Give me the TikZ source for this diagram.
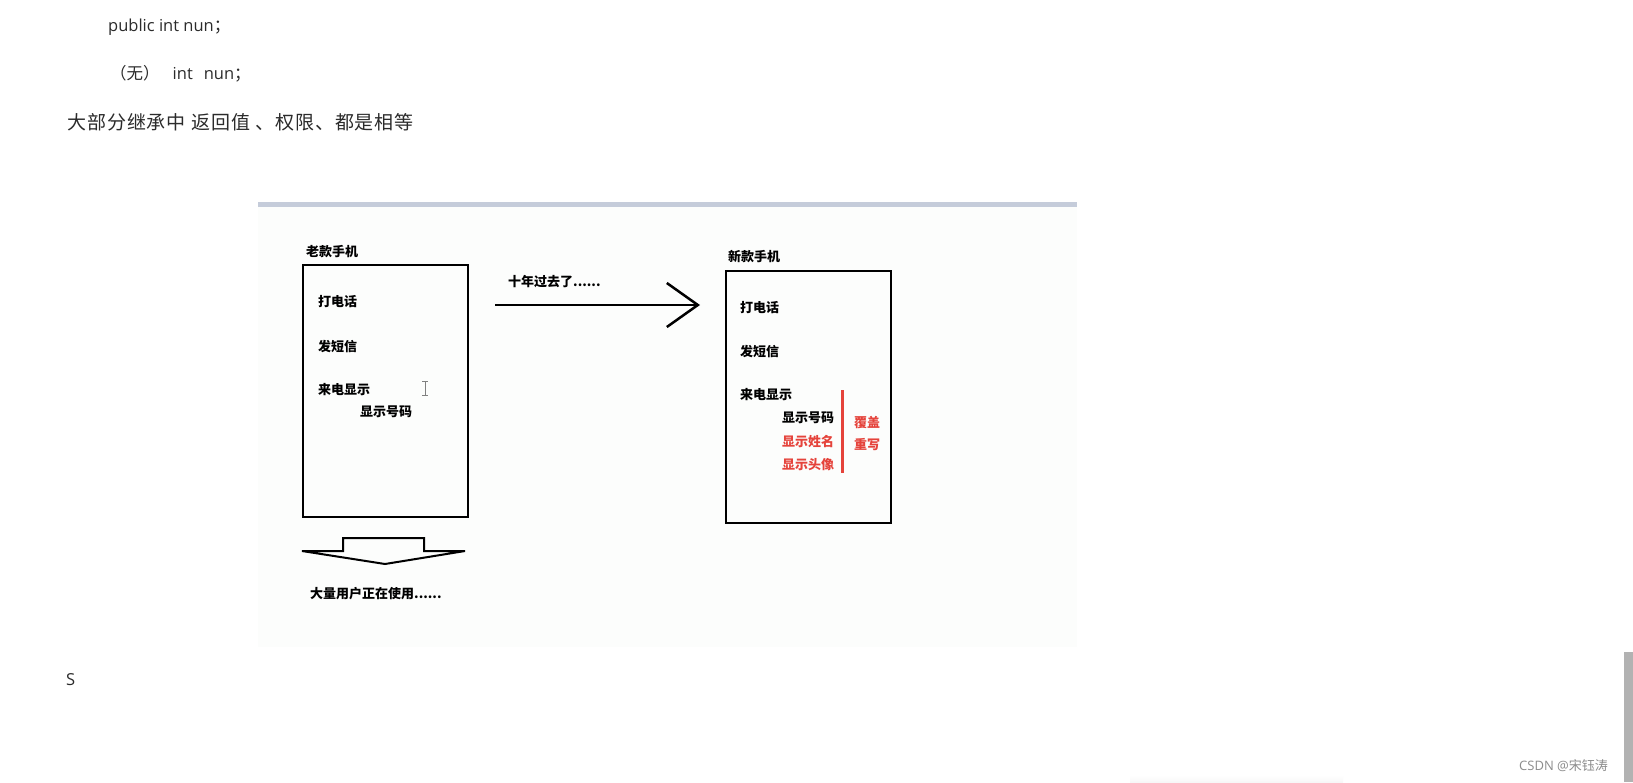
\documentclass[tikz,border=0pt]{standalone}
\usepackage{fontspec}
\setmainfont{Open Sans}
\newfontfamily\cjk{Noto Sans CJK SC}
\usetikzlibrary{arrows.meta,positioning}

\definecolor{bodytext}{HTML}{2B2B2B}
\definecolor{bandblue}{HTML}{C5CCDA}
\definecolor{paper}{HTML}{FCFDFC}
\definecolor{markred}{HTML}{E5433B}
\definecolor{scrollgray}{HTML}{B2B2B2}

\tikzset{
  bodyline/.style={anchor=west, inner sep=0pt, text=bodytext,
    font=\fontsize{16.5}{20}\selectfont},
  phonetext/.style={anchor=west, inner sep=0pt,
    font=\cjk\bfseries\fontsize{13}{15}\selectfont},
  redtext/.style={phonetext, text=markred},
  phonebox/.style={draw, line width=2.7pt, minimum width=165, minimum height=252, inner sep=0pt}
}

\begin{document}
\begin{tikzpicture}[x=1pt,y=-1pt]

\useasboundingbox [fill=white] (0,0) rectangle (1633,782);

% text above the picture
\node [bodyline] (declpublic) at (108,27) {public int nun{\cjk ；}};
\node [bodyline] (declnone) at (110,74) {{\cjk （无）}\hspace{13pt}int\hspace{11pt}nun{\cjk ；}};
\node [bodyline, font=\cjk\fontsize{19}{22}\addfontfeature{LetterSpace=5}\selectfont] (inherit) at (67,122)
  {大部分继承中 返回值 、权限、都是相等};

% the screenshot
\fill [paper] (258,207) rectangle (1077,647);
\fill [bandblue] (258,202) rectangle (1077,207);

% old phone
\node [phonetext] (oldtitle) at (306,252) {老款手机};
\node [phonebox] (oldbox) at (385.5,391) {};
\node [phonetext] (oldcall) at (318,302) {打电话};
\node [phonetext] (oldsms) at (318,347) {发短信};
\node [phonetext] (oldshow) at (318,390) {来电显示};
\node [phonetext] (oldnumber) at (360,412) {显示号码};

\draw [gray, line width=0.8pt] (422,381) -- (428,381) (425,381) -- (425,395) (422,395) -- (428,395);

% ten years later
\node [phonetext] (decade) at (508,282) {十年过去了......};
\coordinate (arrowstart) at (495,305);
\coordinate (arrowend) at (700,305);
\draw [line width=2.5pt, -{Straight Barb[length=31pt,width=44pt,line width=2.5pt]}] (arrowstart) -- (arrowend);

% new phone
\node [phonetext] (newtitle) at (728,257) {新款手机};
\node [phonebox] (newbox) at (808.5,397) {};
\node [phonetext] (newcall) at (740,308) {打电话};
\node [phonetext] (newsms) at (740,352) {发短信};
\node [phonetext] (newshow) at (740,395) {来电显示};
\node [phonetext] (newnumber) at (782,418) {显示号码};
\node [redtext] (newname) at (782,442) {显示姓名};
\node [redtext] (newavatar) at (782,465) {显示头像};
\coordinate (bartop) at (842,390);
\coordinate (barbottom) at (842,473);
\draw [markred, line width=3pt] (bartop) -- (barbottom);
\node [redtext] (cover) at (854,423) {覆盖};
\node [redtext] (rewrite) at (854,445) {重写};

% many users
\draw [line width=2pt, line join=miter] (302,551) -- (343,551) -- (343,538) -- (424,538) -- (424,551)
  -- (465,551) -- (385,564) -- cycle;
\node [phonetext] (users) at (310,594) {大量用户正在使用......};

% page bits
\node [bodyline] (letter) at (66,680) {S};
\fill [scrollgray] (1624,652) rectangle (1633,782);
\shade [top color=white, bottom color=black!3] (1130,775) rectangle (1343,782);
\node [anchor=west, inner sep=0pt, text=black!45, font=\fontsize{13}{15}\selectfont] (csdn) at (1519,766)
  {CSDN @{\cjk 宋钰涛}};

\end{tikzpicture}
\end{document}
